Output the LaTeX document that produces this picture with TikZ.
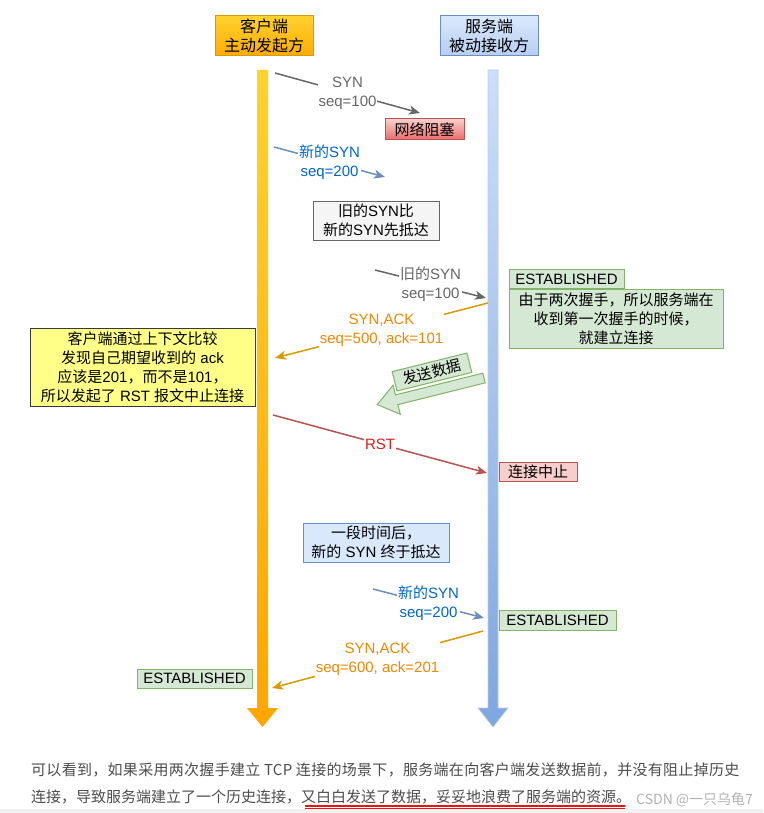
\documentclass[tikz,border=0pt]{standalone}
\usepackage{fontspec}
\setmainfont{Liberation Sans}
\newfontfamily\zh{Noto Sans CJK SC}
\usetikzlibrary{arrows.meta,positioning}
\definecolor{cliTop}{HTML}{FFD22E}
\definecolor{cliBot}{HTML}{FFA500}
\definecolor{cliLine}{HTML}{D79B00}
\definecolor{srvTop}{HTML}{DAE8FC}
\definecolor{srvBot}{HTML}{7EA6E0}
\definecolor{srvLine}{HTML}{6C8EBF}
\definecolor{synGray}{HTML}{666666}
\definecolor{synBlue}{HTML}{0066CC}
\definecolor{ackLine}{HTML}{D79B00}
\definecolor{ackText}{HTML}{F08705}
\definecolor{rstLine}{HTML}{B85450}
\definecolor{rstText}{HTML}{E51A1A}
\definecolor{redTop}{HTML}{F8CECC}
\definecolor{redBot}{HTML}{EA6B66}
\definecolor{estFill}{HTML}{D5E8D4}
\definecolor{estLine}{HTML}{82B366}
\definecolor{noteFill}{HTML}{FFFF88}
\definecolor{noteLine}{HTML}{36393D}
\definecolor{paraGray}{HTML}{4D4D4D}
\definecolor{ulRed}{HTML}{F01010}
\begin{document}
\begin{tikzpicture}[x=1pt,y=-1pt,font=\fontsize{15}{19}\selectfont,
  cn/.style={font=\zh\fontsize{15}{19}\selectfont},
  box/.style={draw,line width=1pt,inner sep=0pt,align=center},
  estbox/.style={box,fill=estFill,draw=estLine,minimum width=115pt,minimum height=19pt},
  msg/.style={line width=1.5pt,-{Stealth[length=11pt,width=9pt,inset=3pt]}},
  lbl/.style={fill=white,inner sep=1pt,align=center}]
\fill[white] (0,0) rectangle (763,813);
\useasboundingbox (0,0) rectangle (763,813);
\fill[gray!10] (0,809) rectangle (763,813);
% lifelines
\shade[top color=cliTop,bottom color=cliBot] (257,70)--(268,70)--(268,708)--(278,708)--(262.5,727)--(247,708)--(257,708)--cycle;
\shade[top color=srvTop!85!srvBot,bottom color=srvBot,draw=srvLine!45,line width=0.6pt] (488,70)--(498,70)--(498,708)--(508,708)--(493,727)--(478,708)--(488,708)--cycle;
\node[box,draw=cliLine,top color=cliTop,bottom color=cliBot!90!cliTop,minimum width=98pt,minimum height=40pt,font=\zh\fontsize{16}{19}\selectfont] (cli) at (264,36) {客户端\\主动发起方};
\node[box,draw=srvLine,top color=srvTop,bottom color=srvTop!60!srvBot,minimum width=98pt,minimum height=40pt,font=\zh\fontsize{16}{19}\selectfont] (srv) at (489,36) {服务端\\被动接收方};
% old SYN, blocked
\coordinate (s1a) at (275,73); \coordinate (s1b) at (420,113);
\draw[msg,synGray] (s1a) -- node[lbl] (s1l) {SYN\\seq=100} (s1b);
\node[box,cn,draw=rstLine,top color=redTop,bottom color=redBot,minimum width=79pt,minimum height=21pt] (jam) at (424.5,129.5) {网络阻塞};
% new SYN
\coordinate (s2a) at (274,147); \coordinate (s2b) at (385,177);
\draw[msg,srvLine] (s2a) -- node[lbl,text=synBlue] (s2l) {{\zh 新的}SYN\\seq=200} (s2b);
\node[box,fill=gray!8,draw=synGray,minimum width=126pt,minimum height=39pt] (first) at (376,220.5) {{\zh 旧的}SYN{\zh 比}\\{\zh 新的}SYN{\zh 先抵达}};
\coordinate (s3a) at (375,270); \coordinate (s3b) at (486,298);
\draw[msg,synGray] (s3a) -- node[lbl] (s3l) {{\zh 旧的}SYN\\seq=100} (s3b);
\node[estbox] (est1) at (566.5,279) {ESTABLISHED};
\node[box,cn,fill=estFill,draw=estLine,minimum width=214pt,minimum height=59pt,anchor=north west] (why) at (est1.south west) {由于两次握手，所以服务端在\\收到第一次握手的时候，\\就建立连接};
\coordinate (a1a) at (488,303); \coordinate (a1b) at (275,358);
\draw[msg,ackLine] (a1a) -- node[lbl,text=ackText] (a1l) {SYN,ACK\\seq=500, ack=101} (a1b);
\node[box,fill=noteFill,draw=noteLine,minimum width=225pt,minimum height=78pt] (ctx) at (142.5,367) {{\zh 客户端通过上下文比较}\\{\zh 发现自己期望收到的} ack\\{\zh 应该是}201{\zh ，而不是}101{\zh ，}\\{\zh 所以发起了} RST {\zh 报文中止连接}};
% data sent
\begin{scope}[shift={(484,378)},rotate=194]
\draw[fill=estFill,draw=estLine,line width=1pt] (0,-5)--(90,-5)--(90,-15)--(110,0)--(90,15)--(90,5)--(0,5)--cycle;
\end{scope}
\node[box,cn,fill=estFill,draw=estLine,rotate=14,minimum width=77pt,minimum height=20pt] (send) at (432,372) {发送数据};
% reset
\coordinate (r1a) at (273,415); \coordinate (r1b) at (487,473);
\draw[msg,rstLine] (r1a) -- node[lbl,text=rstText] (r1l) {RST} (r1b);
\node[box,cn,fill=redTop,draw=rstLine,minimum width=78pt,minimum height=19pt] (abort) at (538,471.5) {连接中止};
% new SYN arrives later
\node[box,fill=srvTop,draw=srvLine,minimum width=146pt,minimum height=39pt] (later) at (376,542.5) {{\zh 一段时间后，}\\{\zh 新的} SYN {\zh 终于抵达}};
\coordinate (s4a) at (373,589); \coordinate (s4b) at (484,618);
\draw[msg,srvLine] (s4a) -- node[lbl,text=synBlue] (s4l) {{\zh 新的}SYN\\seq=200} (s4b);
\node[estbox,minimum width=117pt,minimum height=20pt] (est2) at (557.5,620) {ESTABLISHED};
\coordinate (a2a) at (483,631); \coordinate (a2b) at (272,688);
\draw[msg,ackLine] (a2a) -- node[lbl,text=ackText] (a2l) {SYN,ACK\\seq=600, ack=201} (a2b);
\node[estbox] (est3) at (194.5,678.5) {ESTABLISHED};
% caption below
\node[anchor=west,inner sep=0pt,text=paraGray,font=\zh\addfontfeature{LetterSpace=2}\fontsize{15}{28}\selectfont] (para1) at (31,770) {可以看到，如果采用两次握手建立 TCP 连接的场景下，服务端在向客户端发送数据前，并没有阻止掉历史};
\node[anchor=west,inner sep=0pt,text=paraGray,font=\zh\fontsize{15}{28}\selectfont] (para2) at (31,797) {连接，导致服务端建立了一个历史连接，又白白发送了数据，妥妥地浪费了服务端的资源。};
\coordinate (ulA) at (305,807); \coordinate (ulB) at (625,807);
\draw[ulRed,line width=1.2pt,double=white,double distance=0.8pt] (ulA)--(ulB);
\node[anchor=west,inner sep=0pt,text=gray!60,font=\zh\fontsize{14}{16}\selectfont] (mark) at (636,800) {CSDN @一只乌龟7};
\end{tikzpicture}
\end{document}
